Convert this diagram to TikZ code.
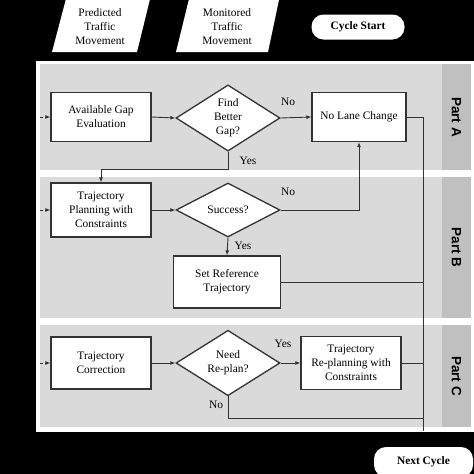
\documentclass[tikz,border=0pt]{standalone}
\usepackage{fontspec}
\setmainfont{Liberation Serif}
\newfontfamily\partfont{Liberation Sans}
\usetikzlibrary{shapes.geometric, arrows.meta}

\tikzset{
  txt/.style={font=\fontsize{11.4}{14}\selectfont, align=center},
  procbox/.style={txt, draw=linegray, line width=1.3pt, fill=white, inner sep=0pt},
  decide/.style={txt, draw=linegray, line width=1.3pt, fill=white, diamond, inner sep=0pt, minimum width=104pt, minimum height=61pt},
  termbox/.style={txt, font=\fontsize{11.4}{14}\selectfont\bfseries, fill=white, rounded corners=12pt, inner sep=0pt},
  link/.style={draw=linegray, line width=0.9pt},
  arr/.style={link, -{Latex[length=5pt, width=4pt]}},
  inarr/.style={arr, dashed, dash pattern=on 3pt off 2pt},
  lbl/.style={font=\fontsize{11.4}{14}\selectfont},
  partlbl/.style={font=\fontsize{13.5}{14}\partfont\bfseries, rotate=-90}
}
\definecolor{linegray}{HTML}{333333}
\definecolor{panelgray}{HTML}{DADADA}
\definecolor{stripgray}{HTML}{C0C0C0}

\begin{document}
\begin{tikzpicture}[x=1pt, y=-1pt]
\useasboundingbox (0,0) rectangle (474,474);
\fill[black] (0,0) rectangle (474,474);
% inputs and terminals
\fill[white] (67,-5) -- (151,-5) -- (137,52) -- (52,52) -- cycle;
\fill[white] (190,-5) -- (280,-5) -- (268,52) -- (176,52) -- cycle;
\node[txt] (predicted) at (100,27) {Predicted\\Traffic\\Movement};
\node[txt] (monitored) at (227,27) {Monitored\\Traffic\\Movement};
\node[termbox, minimum width=93pt, minimum height=25pt] (cyclestart) at (358,27) {Cycle Start};
% panels
\fill[white] (36,61) rectangle (474,432);
\foreach \top/\bot/\part in {64/170/A, 177/318/B, 325/427/C}{
  \fill[panelgray] (40,\top) rectangle (442,\bot);
  \fill[stripgray] (442,\top) rectangle (471,\bot);
  \node[partlbl] (part\part) at (456.5,{(\top+\bot)/2}) {Part \part};
}
\node[termbox, minimum width=99pt, minimum height=30pt] (nextcycle) at (423.5,462) {Next Cycle};
% Part A
\node[procbox, minimum width=100pt, minimum height=49pt] (avail) at (101,117) {Available Gap\\Evaluation};
\node[decide] (findgap) at (228,118) {Find\\Better\\Gap?};
\node[procbox, minimum width=94pt, minimum height=49pt] (nolane) at (359,117) {No Lane Change};
% Part B
\node[procbox, minimum width=100pt, minimum height=54pt] (trajplan) at (101,210) {Trajectory\\Planning with\\Constraints};
\node[decide, minimum height=54pt] (success) at (228,210) {Success?};
\node[procbox, minimum width=107pt, minimum height=52pt] (setref) at (227,282) {Set Reference\\Trajectory};
% Part C
\node[procbox, minimum width=100pt, minimum height=52pt] (trajcorr) at (101,363) {Trajectory\\Correction};
\node[decide, minimum height=52pt] (replan) at (228,363) {Need\\Re-plan?};
\node[procbox, minimum width=100pt, minimum height=53pt] (trajreplan) at (351,363) {Trajectory\\Re-planning with\\Constraints};
% bus on the right
\coordinate (busend) at (423,431);
\coordinate (nojoin) at (423,418);
\coordinate (inA) at (40,117);
\coordinate (inB) at (40,210);
\coordinate (inC) at (40,363);
% connectors
\draw[inarr] (inA) -- (avail.west);
\draw[inarr] (inB) -- (trajplan.west);
\draw[inarr] (inC) -- (trajcorr.west);
\draw[arr] (avail.east) -- (findgap.west);
\draw[arr] (findgap.east) -- (nolane.west);
\draw[arr] (findgap.south) -- ++(0,18) -| (trajplan.north);
\draw[link] (nolane.east) -| (busend);
\draw[arr] (trajplan.east) -- (success.west);
\draw[arr] (success.east) -| (nolane.south);
\draw[arr] (success.south) -- (setref.north);
\draw[link] (setref.east) -- (setref.east -| busend);
\draw[arr] (trajcorr.east) -- (replan.west);
\draw[arr] (replan.east) -- (trajreplan.west);
\draw[link] (trajreplan.east) -- (trajreplan.east -| busend);
\draw[link] (replan.south) |- (nojoin);
% labels
\node[lbl] (noA) at (288,102) {No};
\node[lbl] (yesA) at (248,161) {Yes};
\node[lbl] (noB) at (288,192) {No};
\node[lbl] (yesB) at (243,246) {Yes};
\node[lbl] (yesC) at (283,344) {Yes};
\node[lbl] (noC) at (216,405) {No};
\end{tikzpicture}
\end{document}
